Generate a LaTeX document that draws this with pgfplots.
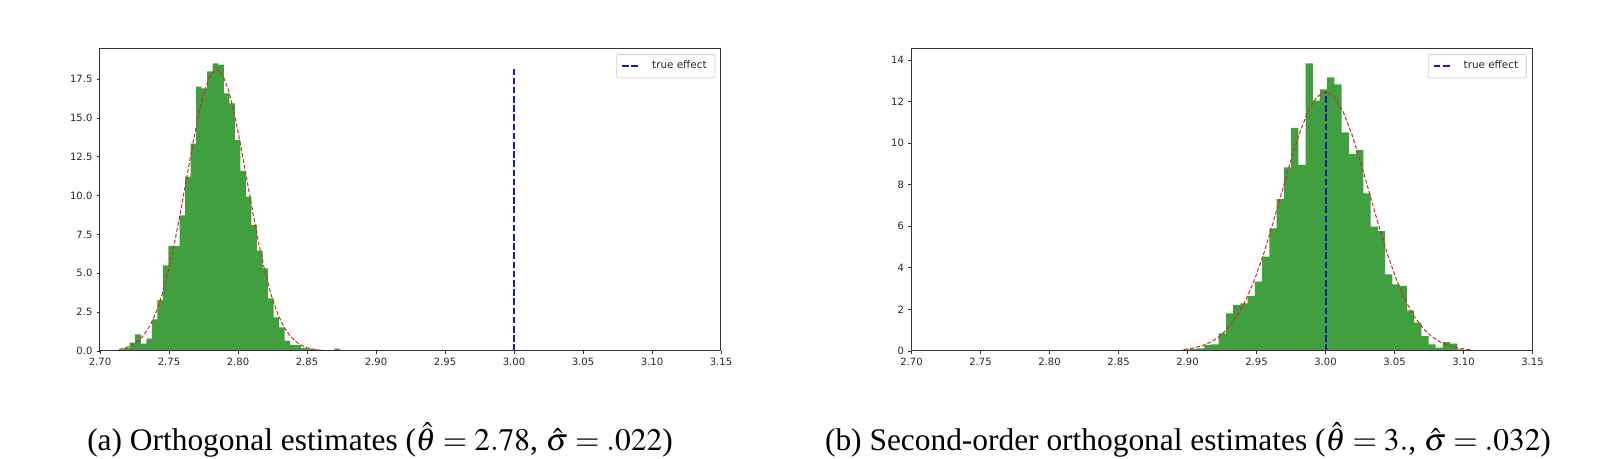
\documentclass[border=0pt]{standalone}
\usepackage{mathptmx}
\usepackage{fontspec}
\setmainfont{Liberation Serif}
\newfontfamily\dejavu{DejaVu Sans}
\usepackage{pgfplots}
\pgfplotsset{compat=1.18}
\definecolor{histgreen}{RGB}{64,160,64}
\definecolor{fitred}{RGB}{214,39,40}
\definecolor{trueblue}{RGB}{25,25,190}

\pgfplotsset{histax/.style={
  scale only axis, width=310.5pt, height=151pt,
  xmin=2.70, xmax=3.15, ymin=0,
  axis line style={black!80, line width=0.5pt},
  tick align=outside, major tick length=1.7pt,
  tick style={black!80, line width=0.4pt},
  xtick pos=bottom, ytick pos=left,
  xtick={2.70,2.75,2.80,2.85,2.90,2.95,3.00,3.05,3.10,3.15},
  xticklabels={2.70,2.75,2.80,2.85,2.90,2.95,3.00,3.05,3.10,3.15},
  tick label style={font=\dejavu\fontsize{5}{6}\selectfont, text=black!85},
  xticklabel style={inner sep=1pt, yshift=-0.6pt},
  yticklabel style={inner sep=1pt, xshift=-0.9pt},
  /pgf/number format/assume math mode=true,
  axis on top,
  legend style={at={(1,1)}, anchor=north east, xshift=-2.8pt, yshift=-2.5pt,
    draw=black!18, rounded corners=1.2pt, inner xsep=2.2pt, inner ysep=1.2pt,
    font=\dejavu\fontsize{5.2}{6}\selectfont, text=black!85,
    /tikz/every odd column/.append style={column sep=3.5pt}},
  legend image code/.code={\draw[##1] (0pt,0pt) -- (9pt,0pt);},
}}

\begin{document}
\begin{tikzpicture}
\useasboundingbox (0pt,0pt) rectangle (808pt,229.5pt);

\begin{axis}[histax, at={(50pt,54pt)}, anchor=south west, ymax=19.44,
  ytick={0,2.5,5,7.5,10,12.5,15,17.5},
  yticklabels={0.0,2.5,5.0,7.5,10.0,12.5,15.0,17.5}]
\addplot[fill=histgreen, draw=none, const plot mark left, forget plot] coordinates {
(2.7135,0.10) (2.71751,0.20) (2.72152,0.54) (2.72553,1.07) (2.72954,0.47)
(2.73355,0.80) (2.73756,2.04) (2.74157,3.28) (2.74558,5.51) (2.74959,6.76)
(2.7536,6.76) (2.75761,8.73) (2.76162,11.22) (2.76563,13.35) (2.76964,17.02)
(2.77365,16.90) (2.77766,18.00) (2.78167,18.52) (2.78568,18.43) (2.78969,16.59)
(2.7937,15.94) (2.79771,13.58) (2.80172,11.59) (2.80573,9.94) (2.80974,8.11)
(2.81375,6.46) (2.81776,5.32) (2.82177,3.39) (2.82578,2.17) (2.82979,1.52)
(2.8338,0.67) (2.83781,0.39) (2.84182,0.39) (2.84583,0.20) (2.84984,0.15)
(2.85385,0.10) (2.85786,0.05) (2.86187,0.02) (2.86588,0.05) (2.86989,0.15)
(2.8739,0.15)} \closedcycle;
\addplot[fitred, line width=0.5pt, dash pattern=on 2pt off 1pt, forget plot] coordinates {
(2.7141,0.108) (2.7185,0.201) (2.7229,0.360) (2.7273,0.617) (2.7317,1.018)
(2.7361,1.612) (2.7405,2.454) (2.7449,3.589) (2.7493,5.042) (2.7537,6.806)
(2.7581,8.827) (2.7625,10.999) (2.7669,13.168) (2.7713,15.147) (2.7757,16.740)
(2.7801,17.775) (2.7845,18.134) (2.7889,17.775) (2.7933,16.740) (2.7977,15.147)
(2.8021,13.168) (2.8065,10.999) (2.8109,8.827) (2.8153,6.806) (2.8197,5.042)
(2.8241,3.589) (2.8285,2.454) (2.8329,1.612) (2.8373,1.018) (2.8417,0.617)
(2.8461,0.360) (2.8505,0.201) (2.8549,0.108) (2.8593,0.056) (2.8637,0.028)
(2.8681,0.013) (2.8725,0.006)};
\addplot[trueblue, line width=1pt, dash pattern=on 3.3pt off 1.3pt] coordinates {(3.0,0) (3.0,18.13)};
\addlegendentry{true effect}
\end{axis}

\begin{axis}[histax, at={(455.75pt,54pt)}, anchor=south west, ymax=14.53,
  ytick={0,2,4,6,8,10,12,14},
  yticklabels={0,2,4,6,8,10,12,14}]
\addplot[fill=histgreen, draw=none, const plot mark left, forget plot] coordinates {
(2.8964,0.08) (2.90164,0.10) (2.90688,0.13) (2.91213,0.29) (2.91737,0.32)
(2.92261,0.85) (2.92785,1.81) (2.93309,2.21) (2.93834,2.29) (2.94358,2.65)
(2.94882,3.34) (2.95406,4.54) (2.9593,5.90) (2.96455,7.31) (2.96979,8.83)
(2.97503,10.74) (2.98027,8.95) (2.98551,13.84) (2.99076,12.04) (2.996,12.59)
(3.00124,13.17) (3.00648,12.83) (3.01172,10.52) (3.01697,9.48) (3.02221,9.67)
(3.02745,7.58) (3.03269,5.98) (3.03793,5.77) (3.04318,3.69) (3.04842,3.21)
(3.05366,3.13) (3.0589,1.96) (3.06414,1.36) (3.06939,0.72) (3.07463,0.32)
(3.07987,0.16) (3.08511,0.43) (3.09035,0.35) (3.0956,0.08) (3.10084,0.03)
(3.10608,0.03)} \closedcycle;
\addplot[fitred, line width=0.5pt, dash pattern=on 2pt off 1pt, forget plot] coordinates {
(2.8976,0.075) (2.9040,0.139) (2.9104,0.247) (2.9168,0.424) (2.9232,0.700)
(2.9296,1.109) (2.9360,1.687) (2.9424,2.467) (2.9488,3.466) (2.9552,4.679)
(2.9616,6.068) (2.9680,7.562) (2.9744,9.053) (2.9808,10.413) (2.9872,11.509)
(2.9936,12.220) (3.0000,12.467) (3.0064,12.220) (3.0128,11.509) (3.0192,10.413)
(3.0256,9.053) (3.0320,7.562) (3.0384,6.068) (3.0448,4.679) (3.0512,3.466)
(3.0576,2.467) (3.0640,1.687) (3.0704,1.109) (3.0768,0.700) (3.0832,0.424)
(3.0896,0.247) (3.0960,0.139) (3.1024,0.075) (3.1060,0.052)};
\addplot[trueblue, line width=1pt, dash pattern=on 3.3pt off 1.3pt] coordinates {(3.0,0) (3.0,12.47)};
\addlegendentry{true effect}
\end{axis}

\node[anchor=base, font=\fontsize{15.7}{18}\selectfont, inner sep=0pt] at (190pt,4pt)
  {(a) Orthogonal estimates ($\hat{\theta}=2.78$, $\hat{\sigma}=.022$)};
\node[anchor=base, font=\fontsize{15.7}{18}\selectfont, inner sep=0pt] at (594pt,4pt)
  {(b) Second-order orthogonal estimates ($\hat{\theta}=3.$, $\hat{\sigma}=.032$)};
\end{tikzpicture}
\end{document}
